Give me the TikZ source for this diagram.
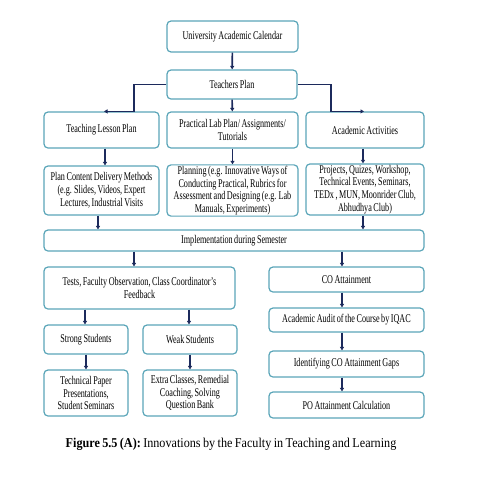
\documentclass[tikz,border=0pt]{standalone}
\usepackage{fontspec}
\setmainfont{Liberation Serif}[FakeStretch=0.69,WordSpace=0.75]
\newfontfamily\capfont{Liberation Serif}[FakeStretch=0.9,WordSpace=0.8]
\usetikzlibrary{arrows.meta}
\definecolor{boxline}{HTML}{5AA5B8}
\definecolor{arrline}{HTML}{1C2A5C}
\begin{document}
\begin{tikzpicture}[x=1pt,y=-1pt,
	every node/.style={font=\fontsize{11.8}{12.8}\selectfont,align=center},
	blk/.style 2 args={draw=boxline,line width=1.2pt,rounded corners=4pt,
	inner xsep=1pt,inner ysep=1pt,minimum width=#1,minimum height=#2},
	arr/.style={draw=arrline,line width=1.6pt,-{Triangle[length=3.5pt,width=4pt]}}]
\useasboundingbox (0,0) rectangle (480,480);
\node[blk={131pt}{31pt}] (cal) at (232.5,36.5) {University Academic Calendar};
\node[blk={130pt}{29pt}] (tp) at (232,84.5) {Teachers Plan};
\node[blk={115pt}{36pt}] (tlp) at (101.5,130) {Teaching Lesson Plan};
\node[blk={131pt}{36pt}] (plp) at (232.5,130) {Practical Lab Plan/ Assignments/\\Tutorials};
\node[blk={118pt}{36pt}] (aa) at (365,130) {Academic Activities};
\node[blk={115pt}{49pt}] (pcd) at (101.5,190.5) {Plan Content Delivery Methods\\(e.g. Slides, Videos, Expert\\Lectures, Industrial Visits};
\node[blk={131pt}{49pt}] (pln) at (232.5,190.5) {Planning (e.g. Innovative Ways of\\Conducting Practical, Rubrics for\\Assessment and Designing (e.g. Lab\\Manuals, Experiments)};
\node[blk={118pt}{47pt}] (prj) at (365,189.5) {Projects, Quizes, Workshop,\\Technical Events, Seminars,\\TEDx , MUN, Moonrider Club,\\Abhudhya Club)};
\node[blk={380pt}{21pt}] (imp) at (234,240.5) {Implementation during Semester};
\node[blk={191pt}{42pt}] (tst) at (139.5,288) {Tests, Faculty Observation, Class Coordinator’s\\Feedback};
\node[blk={155pt}{25pt}] (coa) at (346.5,279.5) {CO Attainment};
\node[blk={84pt}{29pt}] (str) at (86,339.5) {Strong Students};
\node[blk={94pt}{29pt}] (wk) at (190,339.5) {Weak Students};
\node[blk={84pt}{46pt}] (tpp) at (86,393) {Technical Paper\\Presentations,\\Student Seminars};
\node[blk={94pt}{46pt}] (ecl) at (190,393) {Extra Classes, Remedial\\Coaching, Solving\\Question Bank};
\node[blk={155pt}{24pt}] (aud) at (346.5,320) {Academic Audit of the Course by IQAC};
\node[blk={155pt}{26pt}] (gap) at (346.5,364) {Identifying CO Attainment Gaps};
\node[blk={155pt}{26pt}] (po) at (346.5,405) {PO Attainment Calculation};
\node[font=\capfont\fontsize{13.5}{16}\selectfont] (cap) at (231,444) {\textbf{Figure 5.5 (A):} Innovations by the Faculty in Teaching and Learning};
\draw[arr] (cal) -- (tp);
\draw[arr] (tp) -- (plp);
\draw[arr] (tp.west) -| ([xshift=32.5pt]tlp.north) -- ([xshift=2.5pt]tlp.north);
\draw[arr] (tp.east) -| ([xshift=-34pt]aa.north) -- ([xshift=-1pt]aa.north);
\draw[arr] ([xshift=3.5pt]tlp.south) -- ([xshift=3.5pt]pcd.north);
\draw[arr] (plp) -- (pln);
\draw[arr] ([xshift=-2pt]aa.south) -- ([xshift=-2pt]prj.north);
\draw[arr] ([xshift=-3.5pt]pcd.south) -- ([xshift=-3.5pt]pcd.south |- imp.north);
\draw[arr] ([xshift=-2pt]prj.south) -- ([xshift=-2pt]prj.south |- imp.north);
\draw[arr] ([xshift=-5.5pt]tst.north |- imp.south) -- ([xshift=-5.5pt]tst.north);
\draw[arr] ([xshift=-4.5pt]coa.north |- imp.south) -- ([xshift=-4.5pt]coa.north);
\draw[arr] ([xshift=-1pt]str.north |- tst.south) -- ([xshift=-1pt]str.north);
\draw[arr] ([xshift=-1pt]wk.north |- tst.south) -- ([xshift=-1pt]wk.north);
\draw[arr] (str) -- (tpp);
\draw[arr] (wk) -- (ecl);
\draw[arr] ([xshift=-4.5pt]coa.south) -- ([xshift=-4.5pt]aud.north);
\draw[arr] ([xshift=-4.5pt]aud.south) -- ([xshift=-4.5pt]gap.north);
\draw[arr] ([xshift=-4.5pt]gap.south) -- ([xshift=-4.5pt]po.north);
\end{tikzpicture}
\end{document}
